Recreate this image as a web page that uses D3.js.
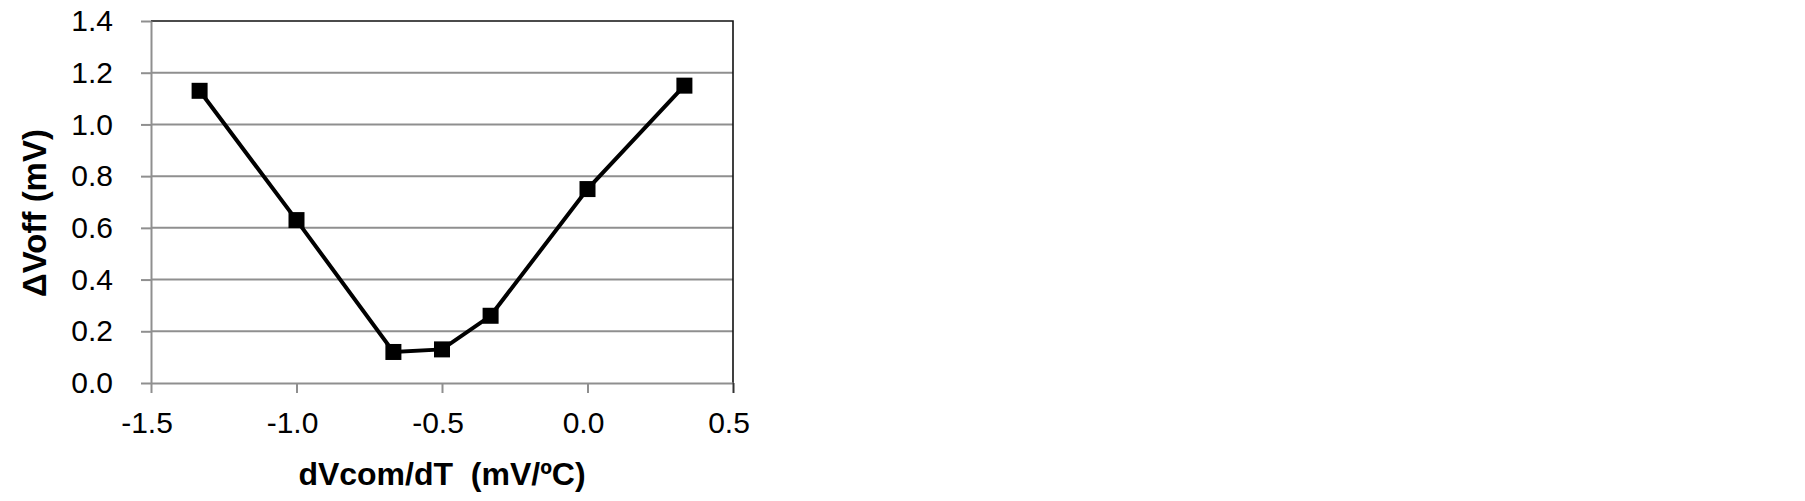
<!DOCTYPE html>
<html>
<head>
<meta charset="utf-8">
<script src="https://cdn.jsdelivr.net/npm/d3@7"></script>
<style>
  body { margin: 0; background: #fff; }
  text { font-family: "Liberation Sans", Arial, sans-serif; }
</style>
</head>
<body>
<div id="container"></div>
<script>
// data
const slopes = [-1.333, -1.0, -0.667, -0.5, -0.333, 0.0, 0.333];
const offsets = [1.13, 0.63, 0.12, 0.13, 0.26, 0.75, 1.15];
const xTicks = [-1.5, -1.0, -0.5, 0.0, 0.5];
const yTicks = [0.0, 0.2, 0.4, 0.6, 0.8, 1.0, 1.2, 1.4];
const xTitle = "dVcom/dT\u00a0\u00a0(mV/ºC)";
const yTitle = "ΔVoff (mV)";

const width = 1805;
const height = 501;
const marginLeft = 151;
const marginRight = 733;   // right edge of plot
const marginTop = 21;
const marginBottom = 383;  // bottom edge of plot

const x = d3.scaleLinear().domain([-1.5, 0.5]).range([marginLeft, marginRight]);
const y = d3.scaleLinear().domain([0, 1.4]).range([marginBottom, marginTop]);

// plain hyphen for negatives, like the original
const fmt = d => d.toFixed(1);

const svg = d3.create("svg")
    .attr("width", width)
    .attr("height", height)
    .attr("viewBox", [0, 0, width, height]);

svg.append("rect").attr("width", width).attr("height", height).attr("fill", "#fff");

// horizontal gridlines
svg.append("g")
  .selectAll("line")
  .data(yTicks.slice(1, -1))
  .join("line")
    .attr("x1", marginLeft)
    .attr("x2", marginRight)
    .attr("y1", d => y(d))
    .attr("y2", d => y(d))
    .attr("stroke", "#8f8f8f")
    .attr("stroke-width", 2);

// top and right frame
svg.append("path")
    .attr("d", `M${marginLeft},${marginTop}H${marginRight}V${marginBottom}`)
    .attr("fill", "none")
    .attr("stroke", "#111")
    .attr("stroke-width", 1.6);

// y axis
const yAxis = svg.append("g")
    .attr("transform", `translate(${marginLeft},0)`)
    .call(d3.axisLeft(y).tickValues(yTicks).tickFormat(fmt).tickSize(10).tickPadding(28).tickSizeOuter(0));

// x axis
const xAxis = svg.append("g")
    .attr("transform", `translate(0,${marginBottom})`)
    .call(d3.axisBottom(x).tickValues(xTicks).tickFormat(fmt).tickSize(10).tickPadding(19).tickSizeOuter(0));

for (const ax of [xAxis, yAxis]) {
  ax.select(".domain").attr("stroke", "#8f8f8f").attr("stroke-width", 2);
  ax.selectAll(".tick line").attr("stroke", "#8f8f8f").attr("stroke-width", 2);
  ax.selectAll(".tick text")
      .attr("fill", "#000")
      .style("font-family", "'Liberation Sans', Arial, sans-serif")
      .style("font-size", "30px");
}
xAxis.selectAll(".tick text").attr("dy", "0.71em").attr("dx", -4.5);
// right-most x tick coincides with frame; keep it dark
xAxis.selectAll(".tick line").filter(d => d === 0.5).attr("stroke", "#333");

// line
svg.append("path")
    .datum(slopes.map((s, i) => [s, offsets[i]]))
    .attr("fill", "none")
    .attr("stroke", "#000")
    .attr("stroke-width", 4)
    .attr("d", d3.line().x(d => x(d[0])).y(d => y(d[1])));

// square markers
const m = 16;
svg.append("g")
  .selectAll("rect")
  .data(slopes.map((s, i) => [s, offsets[i]]))
  .join("rect")
    .attr("x", d => x(d[0]) - m / 2)
    .attr("y", d => y(d[1]) - m / 2)
    .attr("width", m)
    .attr("height", m)
    .attr("fill", "#000");

// axis titles
svg.append("text")
    .attr("x", (marginLeft + marginRight) / 2)
    .attr("y", 485)
    .attr("text-anchor", "middle")
    .attr("font-weight", "bold")
    .attr("font-size", 32)
    .text(xTitle);

svg.append("text")
    .attr("transform", `translate(46,213) rotate(-90)`)
    .attr("text-anchor", "middle")
    .attr("font-weight", "bold")
    .attr("font-size", 33)
    .text(yTitle);

document.getElementById("container").append(svg.node());
</script>
</body>
</html>
